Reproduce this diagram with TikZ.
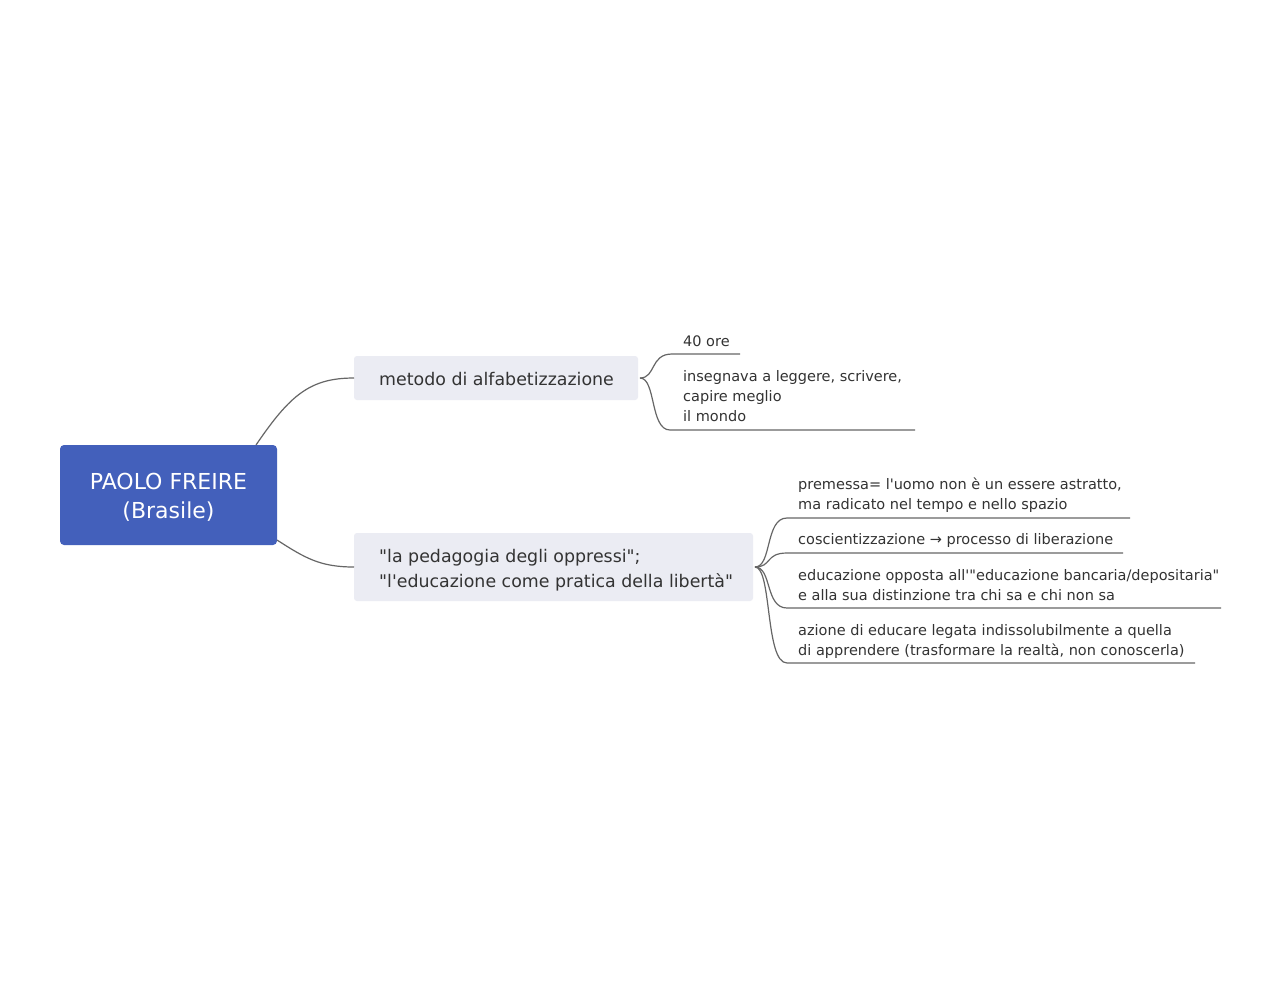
\documentclass[tikz,border=0pt]{standalone}
\usepackage{fontspec}
\setmainfont[Ligatures=TeXOff]{DejaVu Sans}
\definecolor{rootblue}{HTML}{4360BB}
\definecolor{topicfill}{HTML}{EBECF3}
\definecolor{txt}{HTML}{333333}
\definecolor{ln}{HTML}{666666}
\begin{document}
\begin{tikzpicture}[x=1pt,y=-1pt,
  conn/.style={draw=ln,line width=1.2pt},
  leaf/.style={anchor=west,inner sep=0pt,align=left,text=txt,font=\fontsize{14.5}{20}\selectfont},
  topictext/.style={anchor=west,inner sep=0pt,align=left,text=txt,font=\fontsize{17.4}{25}\selectfont},
  topicbox/.style={fill=topicfill,rounded corners=3pt,draw=none}]
\useasboundingbox[fill=white] (0,0) rectangle (1280,989);
% root
\fill[rootblue,rounded corners=4pt] (60,445) rectangle (277,545);
\node[text=white,align=center,font=\fontsize{22}{29}\selectfont] (root) at (168.5,497) {PAOLO FREIRE\\(Brasile)};
\coordinate (roottop) at (256,445);
\coordinate (rootright) at (277,540);
% topic 1
\fill[topicbox] (354,356) rectangle (638,400);
\coordinate (t1w) at (354,378);
\coordinate (t1e) at (640,378);
\node[topictext] (t1) at (379,379) {metodo di alfabetizzazione};
% topic 2
\fill[topicbox] (354,533) rectangle (753,601);
\coordinate (t2w) at (354,567);
\coordinate (t2e) at (755,567);
\node[topictext] (t2) at (379,570) {"la pedagogia degli oppressi";\\"l'educazione come pratica della libertà"};
% root connectors
\draw[conn] (roottop) .. controls (290,395) and (310,378) .. (t1w);
\draw[conn] (rootright) .. controls (305,558) and (320,567) .. (t2w);
% leaves of topic 1
\node[leaf] (a1) at (683,341) {40 ore};
\coordinate (a1s) at (672,354); \coordinate (a1e) at (740,354);
\node[leaf] (a2) at (683,396.5) {insegnava a leggere, scrivere,\\capire meglio\\il mondo};
\coordinate (a2s) at (670,430); \coordinate (a2e) at (915,430);
\draw[conn] (t1e) .. controls (656,378) and (650,354) .. (a1s) -- (a1e);
\draw[conn] (t1e) .. controls (656,378) and (650,430) .. (a2s) -- (a2e);
% leaves of topic 2
\node[leaf] (b1) at (798,495) {premessa= l'uomo non è un essere astratto,\\ma radicato nel tempo e nello spazio};
\coordinate (b1s) at (787,518); \coordinate (b1e) at (1130,518);
\node[leaf] (b2) at (798,540) {coscientizzazione → processo di liberazione};
\coordinate (b2s) at (787,553); \coordinate (b2e) at (1123,553);
\node[leaf] (b3) at (798,585) {educazione opposta all'"educazione bancaria/depositaria"\\e alla sua distinzione tra chi sa e chi non sa};
\coordinate (b3s) at (787,608); \coordinate (b3e) at (1221,608);
\node[leaf] (b4) at (798,641) {azione di educare legata indissolubilmente a quella\\di apprendere (trasformare la realtà, non conoscerla)};
\coordinate (b4s) at (787,663); \coordinate (b4e) at (1195,663);
\draw[conn] (t2e) .. controls (772,567) and (765,518) .. (b1s) -- (b1e);
\draw[conn] (t2e) .. controls (772,567) and (765,553) .. (b2s) -- (b2e);
\draw[conn] (t2e) .. controls (772,567) and (765,608) .. (b3s) -- (b3e);
\draw[conn] (t2e) .. controls (772,567) and (765,663) .. (b4s) -- (b4e);
\end{tikzpicture}
\end{document}
